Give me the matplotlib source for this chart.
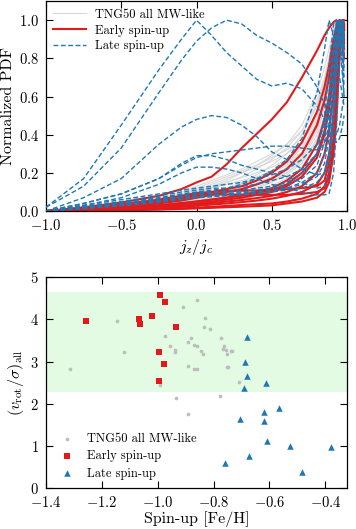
import matplotlib
matplotlib.use("Agg")
import matplotlib.pyplot as plt
import numpy as np

plt.rcParams['font.family'] = 'serif'
plt.rcParams['font.serif'] = ['cmr10', 'DejaVu Serif']
plt.rcParams['mathtext.fontset'] = 'cm'
plt.rcParams['axes.formatter.use_mathtext'] = True
plt.rcParams['axes.unicode_minus'] = True

# ---------------- top panel data ----------------
jz_grid = [-1.0, -0.75, -0.5, -0.25, -0.1, 0.0, 0.1, 0.2, 0.3, 0.4, 0.5, 0.6, 0.7,
           0.8, 0.85, 0.88, 0.91, 0.93, 0.95, 0.97, 0.98]

gray_pdfs = [
    [0.0, 0.01, 0.02, 0.04, 0.06, 0.08, 0.1, 0.12, 0.15, 0.19, 0.24, 0.3, 0.4, 0.55, 0.68, 0.78, 0.9, 0.97, 1.0, 0.9, 0.8],
    [0.0, 0.01, 0.02, 0.035, 0.05, 0.07, 0.09, 0.11, 0.13, 0.16, 0.2, 0.26, 0.35, 0.5, 0.62, 0.74, 0.88, 0.96, 1.0, 0.92, 0.85],
    [0.0, 0.012, 0.025, 0.045, 0.065, 0.09, 0.12, 0.15, 0.18, 0.22, 0.27, 0.33, 0.42, 0.58, 0.7, 0.8, 0.93, 1.0, 0.96, 0.86, 0.78],
    [0.0, 0.008, 0.018, 0.03, 0.045, 0.06, 0.08, 0.1, 0.12, 0.145, 0.18, 0.23, 0.3, 0.44, 0.56, 0.68, 0.85, 0.95, 1.0, 0.94, 0.88],
    [0.0, 0.015, 0.03, 0.05, 0.075, 0.1, 0.13, 0.16, 0.2, 0.24, 0.29, 0.35, 0.45, 0.62, 0.75, 0.85, 0.95, 1.0, 0.95, 0.85, 0.76],
    [0.0, 0.006, 0.014, 0.025, 0.038, 0.05, 0.065, 0.08, 0.1, 0.12, 0.15, 0.19, 0.25, 0.38, 0.5, 0.62, 0.8, 0.93, 1.0, 0.96, 0.9],
    [0.0, 0.02, 0.04, 0.07, 0.1, 0.13, 0.16, 0.19, 0.22, 0.26, 0.3, 0.35, 0.42, 0.56, 0.68, 0.8, 0.94, 1.0, 0.94, 0.82, 0.72],
    [0.0, 0.005, 0.012, 0.02, 0.03, 0.04, 0.05, 0.06, 0.075, 0.09, 0.11, 0.14, 0.19, 0.3, 0.42, 0.55, 0.75, 0.9, 1.0, 0.98, 0.92],
    [0.0, 0.015, 0.035, 0.06, 0.085, 0.11, 0.14, 0.17, 0.2, 0.23, 0.26, 0.3, 0.36, 0.48, 0.6, 0.72, 0.9, 0.98, 1.0, 0.9, 0.8],
    [0.0, 0.01, 0.022, 0.04, 0.058, 0.075, 0.095, 0.115, 0.14, 0.17, 0.21, 0.27, 0.36, 0.52, 0.66, 0.78, 0.92, 1.0, 0.97, 0.88, 0.8],
    [0.0, 0.007, 0.016, 0.028, 0.04, 0.055, 0.07, 0.085, 0.1, 0.125, 0.155, 0.2, 0.27, 0.4, 0.54, 0.67, 0.86, 0.96, 1.0, 0.93, 0.86],
    [0.0, 0.012, 0.028, 0.05, 0.07, 0.095, 0.12, 0.14, 0.16, 0.18, 0.21, 0.25, 0.31, 0.44, 0.57, 0.7, 0.88, 0.97, 1.0, 0.92, 0.84],
    [0.0, 0.004, 0.01, 0.018, 0.026, 0.035, 0.045, 0.055, 0.065, 0.08, 0.1, 0.13, 0.18, 0.28, 0.4, 0.53, 0.74, 0.9, 1.0, 1.0, 0.94],
    [0.0, 0.018, 0.04, 0.065, 0.09, 0.12, 0.15, 0.18, 0.21, 0.24, 0.28, 0.32, 0.38, 0.5, 0.62, 0.74, 0.9, 0.98, 1.0, 0.9, 0.8],
    [0.0, 0.009, 0.02, 0.035, 0.05, 0.065, 0.085, 0.105, 0.13, 0.16, 0.2, 0.25, 0.33, 0.47, 0.6, 0.72, 0.88, 0.97, 1.0, 0.93, 0.86],
    [0.0, 0.011, 0.024, 0.042, 0.06, 0.08, 0.1, 0.12, 0.145, 0.17, 0.2, 0.24, 0.3, 0.42, 0.55, 0.68, 0.86, 0.96, 1.0, 0.94, 0.87],
    [0.0, 0.006, 0.013, 0.023, 0.034, 0.045, 0.058, 0.072, 0.088, 0.108, 0.135, 0.17, 0.23, 0.35, 0.48, 0.61, 0.81, 0.94, 1.0, 0.97, 0.91],
    [0.0, 0.014, 0.03, 0.052, 0.075, 0.1, 0.125, 0.15, 0.175, 0.2, 0.23, 0.27, 0.33, 0.46, 0.59, 0.71, 0.89, 0.98, 1.0, 0.91, 0.82],
    [0.0, 0.008, 0.017, 0.03, 0.043, 0.057, 0.073, 0.09, 0.11, 0.135, 0.165, 0.21, 0.28, 0.42, 0.55, 0.68, 0.86, 0.96, 1.0, 0.95, 0.89],
    [0.0, 0.01, 0.02, 0.034, 0.048, 0.064, 0.08, 0.096, 0.115, 0.135, 0.16, 0.2, 0.26, 0.37, 0.5, 0.63, 0.83, 0.95, 1.0, 0.96, 0.9],
]

red_pdfs = [
    [0.0, 0.02, 0.045, 0.08, 0.115, 0.15, 0.18, 0.245, 0.33, 0.405, 0.48, 0.57, 0.70, 0.84, 0.92, 0.96, 0.99, 1.0, 0.93, 0.85, 0.8],
    [0.0, 0.01, 0.025, 0.045, 0.065, 0.08, 0.1, 0.115, 0.13, 0.16, 0.2, 0.26, 0.36, 0.52, 0.65, 0.76, 0.9, 0.97, 1.0, 0.9, 0.8],
    [0.0, 0.008, 0.02, 0.04, 0.055, 0.07, 0.085, 0.1, 0.115, 0.14, 0.17, 0.22, 0.3, 0.45, 0.58, 0.7, 0.85, 0.95, 1.0, 0.93, 0.85],
    [0.0, 0.006, 0.015, 0.03, 0.042, 0.05, 0.06, 0.07, 0.085, 0.1, 0.12, 0.16, 0.22, 0.35, 0.48, 0.6, 0.78, 0.92, 1.0, 0.96, 0.9],
    [0.0, 0.005, 0.012, 0.025, 0.033, 0.04, 0.05, 0.06, 0.07, 0.085, 0.1, 0.13, 0.18, 0.28, 0.4, 0.53, 0.72, 0.88, 0.98, 1.0, 0.92],
    [0.0, 0.004, 0.01, 0.02, 0.028, 0.035, 0.042, 0.05, 0.058, 0.068, 0.08, 0.1, 0.13, 0.2, 0.3, 0.42, 0.62, 0.8, 0.95, 1.0, 0.95],
    [0.0, 0.003, 0.008, 0.016, 0.022, 0.028, 0.034, 0.04, 0.047, 0.055, 0.065, 0.08, 0.1, 0.14, 0.2, 0.3, 0.5, 0.7, 0.9, 1.0, 0.97],
    [0.0, 0.015, 0.035, 0.06, 0.08, 0.095, 0.1, 0.105, 0.107, 0.108, 0.11, 0.115, 0.12, 0.13, 0.16, 0.25, 0.5, 0.75, 0.95, 1.0, 0.95],
    [0.0, 0.002, 0.005, 0.01, 0.014, 0.018, 0.022, 0.027, 0.032, 0.036, 0.04, 0.05, 0.065, 0.09, 0.13, 0.2, 0.38, 0.6, 0.85, 1.0, 0.98],
    [0.0, 0.002, 0.004, 0.008, 0.011, 0.014, 0.017, 0.02, 0.023, 0.026, 0.03, 0.04, 0.05, 0.07, 0.1, 0.15, 0.3, 0.5, 0.8, 0.98, 1.0],
    [0.0, 0.01, 0.025, 0.05, 0.07, 0.085, 0.088, 0.087, 0.085, 0.085, 0.085, 0.085, 0.09, 0.1, 0.12, 0.18, 0.35, 0.6, 0.88, 1.0, 0.96],
    [0.0, 0.005, 0.015, 0.03, 0.04, 0.05, 0.06, 0.07, 0.08, 0.095, 0.11, 0.14, 0.2, 0.3, 0.42, 0.58, 0.8, 0.94, 1.0, 0.95, 0.88],
]

blue_pdfs = [
    [0.02, 0.17, 0.45, 0.74, 0.9, 1.0, 0.92, 0.83, 0.76, 0.69, 0.655, 0.67, 0.64, 0.55, 0.48, 0.43, 0.38, 0.36, 0.38, 0.45, 0.5],
    [0.02, 0.13, 0.33, 0.62, 0.79, 0.89, 0.96, 1.0, 0.98, 0.92, 0.88, 0.83, 0.77, 0.65, 0.56, 0.48, 0.42, 0.4, 0.45, 0.55, 0.6],
    [0.0, 0.07, 0.17, 0.35, 0.44, 0.48, 0.5, 0.49, 0.45, 0.39, 0.31, 0.27, 0.22, 0.19, 0.2, 0.28, 0.5, 0.75, 0.95, 1.0, 0.9],
    [0.0, 0.04, 0.09, 0.17, 0.24, 0.28, 0.3, 0.31, 0.32, 0.33, 0.34, 0.34, 0.33, 0.32, 0.35, 0.45, 0.7, 0.9, 1.0, 0.85, 0.7],
    [0.0, 0.04, 0.09, 0.17, 0.25, 0.29, 0.29, 0.27, 0.24, 0.22, 0.2, 0.18, 0.15, 0.12, 0.13, 0.2, 0.45, 0.75, 0.95, 1.0, 0.85],
    [0.0, 0.03, 0.07, 0.14, 0.2, 0.23, 0.23, 0.22, 0.2, 0.17, 0.14, 0.12, 0.1, 0.085, 0.085, 0.09, 0.2, 0.45, 0.8, 1.0, 0.9],
    [0.0, 0.03, 0.06, 0.09, 0.11, 0.12, 0.13, 0.14, 0.15, 0.17, 0.19, 0.22, 0.27, 0.35, 0.45, 0.6, 0.85, 0.97, 1.0, 0.8, 0.65],
    [0.0, 0.025, 0.05, 0.08, 0.1, 0.11, 0.12, 0.12, 0.13, 0.14, 0.16, 0.18, 0.22, 0.3, 0.42, 0.62, 0.88, 1.0, 0.95, 0.75, 0.6],
    [0.0, 0.02, 0.045, 0.07, 0.09, 0.1, 0.11, 0.12, 0.14, 0.17, 0.21, 0.27, 0.38, 0.62, 0.85, 1.0, 0.92, 0.8, 0.7, 0.6, 0.55],
    [0.0, 0.02, 0.04, 0.065, 0.085, 0.095, 0.1, 0.105, 0.11, 0.12, 0.13, 0.15, 0.2, 0.3, 0.5, 0.75, 0.98, 1.0, 0.9, 0.7, 0.6],
    [0.0, 0.02, 0.04, 0.06, 0.08, 0.09, 0.095, 0.1, 0.1, 0.11, 0.12, 0.14, 0.17, 0.24, 0.36, 0.55, 0.85, 0.98, 1.0, 0.9, 0.75],
    [0.0, 0.015, 0.035, 0.055, 0.07, 0.08, 0.085, 0.09, 0.095, 0.1, 0.11, 0.12, 0.15, 0.2, 0.3, 0.45, 0.75, 0.95, 1.0, 0.92, 0.8],
    [0.0, 0.015, 0.03, 0.05, 0.065, 0.075, 0.08, 0.085, 0.09, 0.095, 0.1, 0.11, 0.12, 0.15, 0.2, 0.3, 0.55, 0.8, 0.97, 1.0, 0.9],
    [0.0, 0.012, 0.028, 0.045, 0.06, 0.07, 0.075, 0.08, 0.085, 0.09, 0.1, 0.12, 0.14, 0.18, 0.25, 0.38, 0.65, 0.88, 1.0, 0.95, 0.85],
]

# ---------------- bottom panel data ----------------
gray_feh = [-1.313, -1.146, -1.122, -0.908, -0.860, -0.830, -0.834, -0.813, -0.974, -0.893,
            -0.879, -0.957, -0.938, -0.938, -0.870, -0.858, -0.844, -0.839, -0.772, -0.763,
            -0.765, -0.756, -0.753, -0.739, -0.734, -0.891, -0.869, -0.858, -0.753, -0.748,
            -0.710, -0.993, -0.777, -0.933, -0.891]
gray_vs = [2.83, 3.96, 3.22, 4.30, 4.45, 4.03, 3.82, 3.78, 3.60, 3.47,
           3.55, 3.36, 3.27, 3.22, 3.40, 3.36, 3.26, 3.18, 3.55, 3.36,
           3.29, 3.27, 3.19, 3.25, 3.25, 2.90, 2.82, 2.82, 2.88, 2.87,
           2.51, 2.44, 2.18, 2.15, 1.75]

early_feh = [-1.257, -0.990, -0.975, -1.067, -1.062, -1.021, -0.933, -0.994, -0.978, -0.997]
early_vs = [3.96, 4.57, 4.42, 4.02, 3.89, 4.08, 3.83, 3.23, 2.95, 2.55]

late_feh = [-0.679, -0.687, -0.681, -0.692, -0.611, -0.565, -0.706, -0.620, -0.618, -0.607,
            -0.527, -0.381, -0.673, -0.760, -0.484]
late_vs = [3.58, 2.99, 2.65, 2.38, 2.50, 1.91, 1.65, 1.81, 1.60, 1.12,
           1.00, 0.97, 0.77, 0.61, 0.38]

band_low, band_high = 2.27, 4.65

RED = '#e31a1c'
BLUE = '#1f78b4'
GRAY_LINE = '#d8d8d8'
GRAY_PT = '#bdbdbd'

fig = plt.figure(figsize=(3.56, 5.29), dpi=100)
ax1 = fig.add_axes([0.129, 0.601, 0.846, 0.397])
ax2 = fig.add_axes([0.129, 0.077, 0.846, 0.399])

for i, y in enumerate(gray_pdfs):
    ax1.plot(jz_grid, y, color=GRAY_LINE, lw=0.8, zorder=1,
             label='TNG50 all MW-like' if i == 0 else None)
for i, y in enumerate(red_pdfs):
    ax1.plot(jz_grid, y, color=RED, lw=1.5, zorder=2,
             label='Early spin-up' if i == 0 else None)
for i, y in enumerate(blue_pdfs):
    ax1.plot(jz_grid, y, color=BLUE, lw=1.0, ls=(0, (3.5, 1.8)), zorder=3,
             label='Late spin-up' if i == 0 else None)

ax1.set_xlim(-1.0, 1.0)
ax1.set_ylim(0, 1.1)
ax1.set_xticks([-1.0, -0.5, 0.0, 0.5, 1.0])
ax1.set_yticks([0.0, 0.2, 0.4, 0.6, 0.8, 1.0])
ax1.set_xlabel(r'$j_z/j_c$', fontsize=11.5, labelpad=3)
ax1.set_ylabel('Normalized PDF', fontsize=11.5, labelpad=3)
ax1.legend(loc='upper left', frameon=False, fontsize=9, handlelength=2.6,
           borderaxespad=0.2, labelspacing=0.3, handletextpad=0.7)

ax2.axhspan(band_low, band_high, color='#e2fbe2', zorder=0, lw=0)
ax2.scatter(gray_feh, gray_vs, s=7, color=GRAY_PT, marker='o', lw=0, zorder=2,
            label='TNG50 all MW-like')
ax2.scatter(early_feh, early_vs, s=20, color=RED, marker='s', lw=0, zorder=3,
            label='Early spin-up')
ax2.scatter(late_feh, late_vs, s=22, color=BLUE, marker='^', lw=0, zorder=3,
            label='Late spin-up')
ax2.set_xlim(-1.4, -0.322)
ax2.set_ylim(0, 5)
ax2.set_xticks([-1.4, -1.2, -1.0, -0.8, -0.6, -0.4])
ax2.set_yticks([0, 1, 2, 3, 4, 5])
ax2.set_xlabel('Spin-up [Fe/H]', fontsize=11.5, labelpad=1)
ax2.set_ylabel(r'$(v_{\rm rot}/\sigma)_{\rm all}$', fontsize=11.5, labelpad=3)
ax2.legend(loc='lower left', frameon=False, fontsize=9, borderaxespad=0.3,
           labelspacing=0.4, handletextpad=0.6, scatterpoints=1)

for ax in (ax1, ax2):
    ax.tick_params(direction='in', top=True, right=True, length=5, width=0.8,
                   labelsize=10.5)
    ax.tick_params(axis='x', pad=5)
    ax.tick_params(axis='y', pad=5)
    for sp in ax.spines.values():
        sp.set_linewidth(0.9)

fig.savefig('out.png', dpi=100)
